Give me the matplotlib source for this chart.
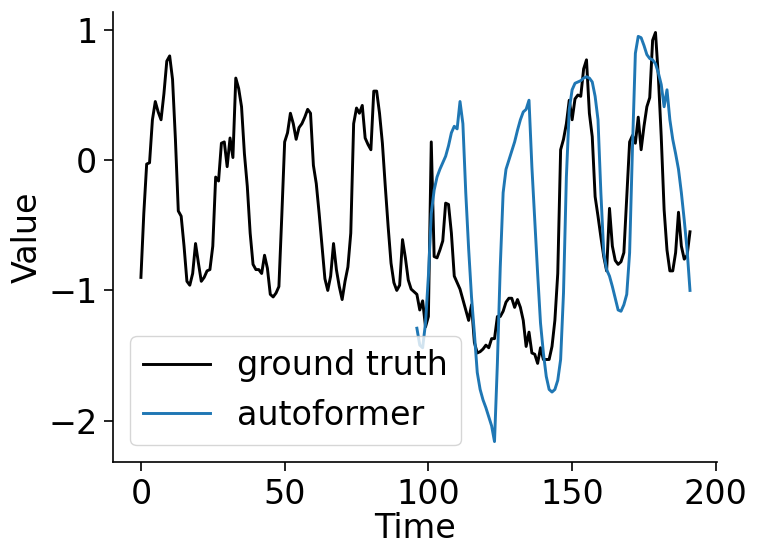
import matplotlib
matplotlib.use("Agg")
import matplotlib.pyplot as plt
import numpy as np

ground_truth = [
    -0.90, -0.41, -0.03, -0.02, 0.31, 0.45, 0.37, 0.31, 0.51, 0.76,
    0.80, 0.62, 0.16, -0.39, -0.43, -0.66, -0.93, -0.96, -0.87, -0.64,
    -0.79, -0.93, -0.90, -0.85, -0.84, -0.66, -0.13, -0.16, 0.13, 0.14,
    -0.05, 0.17, 0.02, 0.63, 0.55, 0.41, 0.05, -0.20, -0.56, -0.80,
    -0.84, -0.84, -0.87, -0.73, -0.83, -1.03, -1.05, -1.02, -0.97, -0.43,
    0.14, 0.21, 0.36, 0.28, 0.16, 0.25, 0.28, 0.33, 0.39, 0.36,
    -0.04, -0.18, -0.41, -0.66, -0.91, -1.00, -0.89, -0.64, -0.84, -0.97,
    -1.07, -0.93, -0.82, -0.56, 0.28, 0.40, 0.36, 0.42, 0.17, 0.12,
    0.08, 0.53, 0.53, 0.36, 0.13, -0.20, -0.51, -0.79, -0.94, -1.00,
    -0.96, -0.61, -0.75, -0.92, -0.99, -1.01, -1.03, -1.15, -1.08, -1.28,
    -1.20, 0.14, -0.74, -0.75, -0.69, -0.62, -0.33, -0.34, -0.56, -0.89,
    -0.94, -0.99, -1.07, -1.15, -1.23, -1.11, -1.40, -1.48, -1.47, -1.45,
    -1.42, -1.44, -1.37, -1.37, -1.20, -1.20, -1.16, -1.09, -1.06, -1.06,
    -1.13, -1.07, -1.13, -1.23, -1.43, -1.32, -1.48, -1.49, -1.56, -1.44,
    -1.53, -1.53, -1.53, -1.43, -1.23, -0.87, 0.08, 0.16, 0.28, 0.46,
    0.31, 0.47, 0.50, 0.49, 0.70, 0.77, 0.36, 0.18, -0.28, -0.43,
    -0.59, -0.74, -0.85, -0.37, -0.66, -0.77, -0.80, -0.78, -0.71, -0.28,
    0.14, 0.19, 0.13, 0.33, 0.08, 0.26, 0.41, 0.48, 0.92, 0.98,
    0.64, 0.18, -0.38, -0.69, -0.85, -0.85, -0.71, -0.40, -0.66, -0.76,
    -0.73, -0.55,
]

autoformer_start = 96
autoformer = [
    -1.29, -1.42, -1.44, -1.25, -0.89, -0.41, -0.23, -0.13, -0.07, -0.02,
    0.03, 0.11, 0.21, 0.26, 0.24, 0.45, 0.28, -0.25, -0.68, -1.05,
    -1.33, -1.63, -1.76, -1.84, -1.90, -1.97, -2.04, -2.16, -1.56, -0.82,
    -0.25, -0.07, 0.00, 0.07, 0.14, 0.23, 0.31, 0.37, 0.39, 0.46,
    -0.05, -0.46, -0.87, -1.25, -1.48, -1.66, -1.76, -1.78, -1.76, -1.69,
    -1.53, -1.02, -0.13, 0.39, 0.54, 0.59, 0.60, 0.61, 0.63, 0.64,
    0.63, 0.60, 0.49, 0.31, -0.25, -0.71, -0.84, -0.89, -0.97, -1.06,
    -1.15, -1.16, -1.11, -1.03, -0.71, 0.10, 0.82, 0.95, 0.94, 0.88,
    0.81, 0.78, 0.77, 0.74, 0.67, 0.58, 0.41, 0.54, 0.31, 0.16,
    0.05, -0.07, -0.25, -0.46, -0.69, -1.00,
]

x_gt = np.arange(len(ground_truth))
x_af = np.arange(autoformer_start, autoformer_start + len(autoformer))

plt.rcParams['font.family'] = ['DejaVu Sans']
plt.rcParams['font.size'] = 24

fig = plt.figure(figsize=(7.6, 5.59), dpi=100)
ax = fig.add_axes([0.1493, 0.1735, 0.7947, 0.805])

ax.plot(x_gt, ground_truth, color='black', lw=2.1, label='ground truth')
ax.plot(x_af, autoformer, color='#1f77b4', lw=2.1, label='autoformer')

ax.set_xticks([0, 50, 100, 150, 200])
ax.set_yticks([-2, -1, 0, 1])
ax.set_xlabel('Time', fontsize=24, labelpad=1)
ax.set_ylabel('Value', fontsize=24, labelpad=3)
ax.tick_params(labelsize=24, length=6.5, width=1.2, pad=5)
for s in ['top', 'right']:
    ax.spines[s].set_visible(False)
for s in ['left', 'bottom']:
    ax.spines[s].set_linewidth(1.2)

ax.legend(loc='lower left', fontsize=24)

fig.savefig('out.png', dpi=100)
